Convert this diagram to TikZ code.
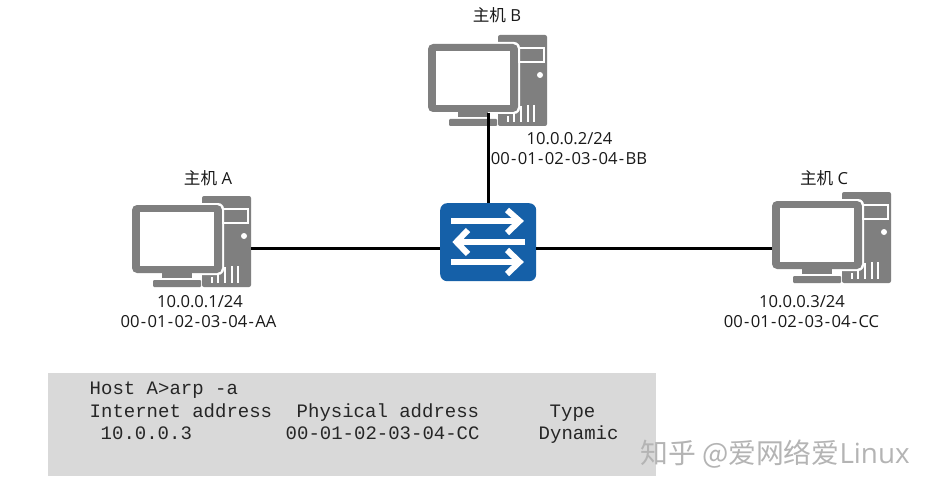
\documentclass[tikz,border=0pt]{standalone}
\usepackage{fontspec}
\setmainfont{Open Sans}
\newfontfamily\cjkf{Noto Sans CJK SC}
\newfontfamily\monof{Liberation Mono}
\definecolor{hostgray}{HTML}{7F7F7F}
\definecolor{swblue}{HTML}{1560A8}
\definecolor{boxgray}{HTML}{D9D9D9}
\definecolor{wm}{HTML}{B4B4B4}
\newcommand{\hy}{\kern1.3pt-\kern1.3pt}
\tikzset{
  x=1pt,y=-1pt,
  hg/.style={fill=hostgray,draw=none},
  wl/.style={draw=white,line width=1.3pt},
  link/.style={draw=black,line width=3pt},
  arr/.style={draw=white,line width=6pt},
  lbl/.style={inner sep=0pt,font=\fontsize{16.6}{20}\selectfont,align=center,text=black!90},
  mono/.style={inner sep=0pt,anchor=base west,font=\monof\fontsize{19}{19}\selectfont,text=black!85},
  host/.pic={
    % tower
    \path[hg,rounded corners=2pt] (70,-9) rectangle (119,82);
    % monitor halo and body
    \path[fill=white,rounded corners=6pt] (-2,-2) rectangle (92,70);
    \path[hg,rounded corners=5pt] (0,0) rectangle (90,68);
    \path[fill=white] (8,7) rectangle (82,61);
    % stand
    \path[hg] (30,68) rectangle (60,73);
    \path[hg,rounded corners=1pt] (21,75) rectangle (69,82);
    % bay
    \draw[wl] (91,4) rectangle (116,18);
    \path[fill=white] (112,31) circle (3);
    % vents
    \draw[wl] (106,61) -- (106,78);
    \draw[wl] (100,61) -- (100,78);
    \draw[wl] (93,62) -- (93,78);
    \draw[wl] (86,69) -- (86,78);
    \draw[wl] (80,72) -- (80,78);
    \node[inner sep=0pt,minimum width=90pt,minimum height=68pt,anchor=north west] (-mon) at (0,0) {};
    \node[inner sep=0pt,minimum width=49pt,minimum height=91pt,anchor=north west] (-tower) at (70,-9) {};
  }
}
\begin{document}
\begin{tikzpicture}
\useasboundingbox (0,0) rectangle (934,492);
\fill[white] (0,0) rectangle (934,492);
% grey table
\node[fill=boxgray,inner sep=0pt,minimum width=608pt,minimum height=103pt,anchor=north west] (tbl) at (48,373) {};
% hosts
\pic (a) at (132,205) {host};
\pic (b) at (428,44) {host};
\pic (c) at (772,201) {host};
% switch
\node[fill=swblue,rounded corners=7pt,inner sep=0pt,minimum width=96pt,minimum height=78pt,anchor=north west] (sw) at (440,203) {};
\draw[arr] (451,221) -- (518,221);
\draw[arr,miter limit=10] (507,210) -- (519.5,221) -- (507,233);
\draw[arr] (525,242) -- (458,242);
\draw[arr,miter limit=10] (468,230) -- (456.5,242) -- (468,254);
\draw[arr] (451,262) -- (518,262);
\draw[arr,miter limit=10] (507,250) -- (519.5,262) -- (507,274);
% connectors
\coordinate (aport) at (251,248);
\coordinate (bport) at (488.5,113);
\coordinate (cport) at (772,248);
\draw[link] (aport) -- (aport -| sw.west);
\draw[link] (bport) -- (bport |- sw.north);
\draw[link] (cport) -- (cport -| sw.east);
% labels
\node[lbl] (la) at (208,178) {{\cjkf 主机} A};
\node[lbl] (lb) at (497,15) {{\cjkf 主机} B};
\node[lbl] (lc) at (824,178) {{\cjkf 主机} C};
\node[lbl] (a1) at (200,302) {10.0.0.1/24};
\node[lbl] (a2) at (198.5,322) {00\hy01\hy02\hy03\hy04\hy AA};
\node[lbl] (b1) at (569.5,139) {10.0.0.2/24};
\node[lbl] (b2) at (569,159) {00\hy01\hy02\hy03\hy04\hy BB};
\node[lbl] (c1) at (802,302) {10.0.0.3/24};
\node[lbl] (c2) at (801.5,322) {00\hy01\hy02\hy03\hy04\hy CC};
% table text
\node[mono] (t1) at (89.5,394) {Host A>arp -a};
\node[mono] (t2) at (89.5,417) {Internet address};
\node[mono] (t3) at (296.5,417) {Physical address};
\node[mono] (t4) at (549.5,417) {Type};
\node[mono] (t5) at (100.5,439) {10.0.0.3};
\node[mono] (t6) at (285.5,439) {00-01-02-03-04-CC};
\node[mono] (t7) at (538.5,439) {Dynamic};
% watermark
\node[inner sep=0pt,anchor=west,text=wm,font=\fontsize{27.8}{30}\selectfont] (wm) at (640,454) {{\cjkf 知乎 @爱网络爱}Linux};
\end{tikzpicture}
\end{document}
